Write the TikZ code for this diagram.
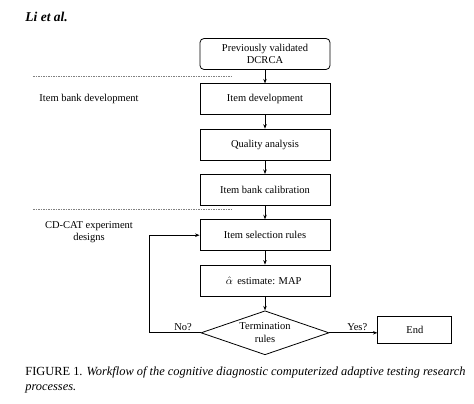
\documentclass[tikz,border=0pt]{standalone}
\usepackage{amsmath,amssymb}
\usepackage{fontspec}
\setmainfont{Liberation Serif}
\usetikzlibrary{positioning,shapes.geometric,arrows.meta}

\begin{document}
\begin{tikzpicture}[x=1pt, y=-1pt, line width=0.8pt, node distance=13.5pt,
		>={Stealth[length=4.5pt, width=3.5pt]}]

		\useasboundingbox (0,0) rectangle (474,404); %画像の大きさ
		\tikzset {
			styleBox/.style= {
				draw, rectangle, minimum width=130pt, minimum height=31pt,
				inner sep=2pt, align=center, font=\fontsize{10.5}{12.5}\selectfont
			},		%四角の箱
			styleDecision/.style= {
				draw, diamond, aspect=2.9, minimum width=128pt, minimum height=44pt,
				inner sep=0pt, align=center, font=\fontsize{10.5}{12.5}\selectfont
			},		%ひし形
			styleSplit/.style= {
				draw=gray, line width=0.4pt, dash pattern=on 1.5pt off 1pt
			},		%区切りの点線
			styleNote/.style= {
				align=center, font=\fontsize{10.5}{12.5}\selectfont
			}		%左側の説明
		};

		%一番上の箱
		\node [styleBox, rounded corners=4pt] (b0) at (265,54)
			{Previously validated\\DCRCA};

		%ループで箱を下へ並べる
		\foreach
			\boxName/\prevName/\boxText in {
				1/0/Item development, 2/1/Quality analysis,
				3/2/Item bank calibration, 4/3/Item selection rules,
				5/4/{$\hat{\alpha}$\, estimate: MAP} } {
			\node [styleBox, below=of b\prevName] (b\boxName) {\boxText};
		}

		%判定と終わり
		\node [styleDecision, below=14pt of b5] (term) {Termination\\rules};
		\node [styleBox, minimum width=74pt, minimum height=27pt,
			right=48pt of term, yshift=3pt] (end) {End};

		%ループで矢印を書く
		\foreach \startName/\endName in
			{0/1, 1/2, 2/3, 3/4, 4/5} {
			\draw [->] (b\startName) -- (b\endName);
		}
		\draw [->] (b5) -- (term);
		\draw [->] (term.east) -- node [above, pos=0.58, inner sep=1.5pt,
			font=\fontsize{10.5}{12.5}\selectfont] (yes) {Yes?} (term.east -| end.west);

		%戻りの線
		\coordinate (loopCorner) at (149,0);
		\draw [->] (term.west) -- node [above, pos=0.34, inner sep=1.5pt,
			font=\fontsize{10.5}{12.5}\selectfont] (no) {No?}
			(term.west -| loopCorner) |- (b4.west);

		%区切りの点線
		\foreach \splitName/\splitY in {bank/76, cat/209} {
			\coordinate (\splitName L) at (33,\splitY);
			\coordinate (\splitName R) at (233,\splitY);
			\draw [styleSplit] (\splitName L) -- (\splitName R);
		}

		%左側の説明
		\node [styleNote] (bankNote) at (89,99) {Item bank development};
		\node [styleNote] (catNote) at (89,232) {CD-CAT experiment\\designs};

		%見出しと図の名前
		\node [anchor=west, inner sep=0pt,
			font=\fontsize{13.5}{15}\selectfont\bfseries\itshape] (head) at (25,17) {Li et al.};
		\node [anchor=north west, align=left, inner sep=0pt,
			font=\fontsize{12.4}{15}\selectfont] (caption) at (25,366)
			{FIGURE 1. \textit{Workflow of the cognitive diagnostic computerized adaptive testing research}\\
			\textit{processes.}};

	\end{tikzpicture}
\end{document}
